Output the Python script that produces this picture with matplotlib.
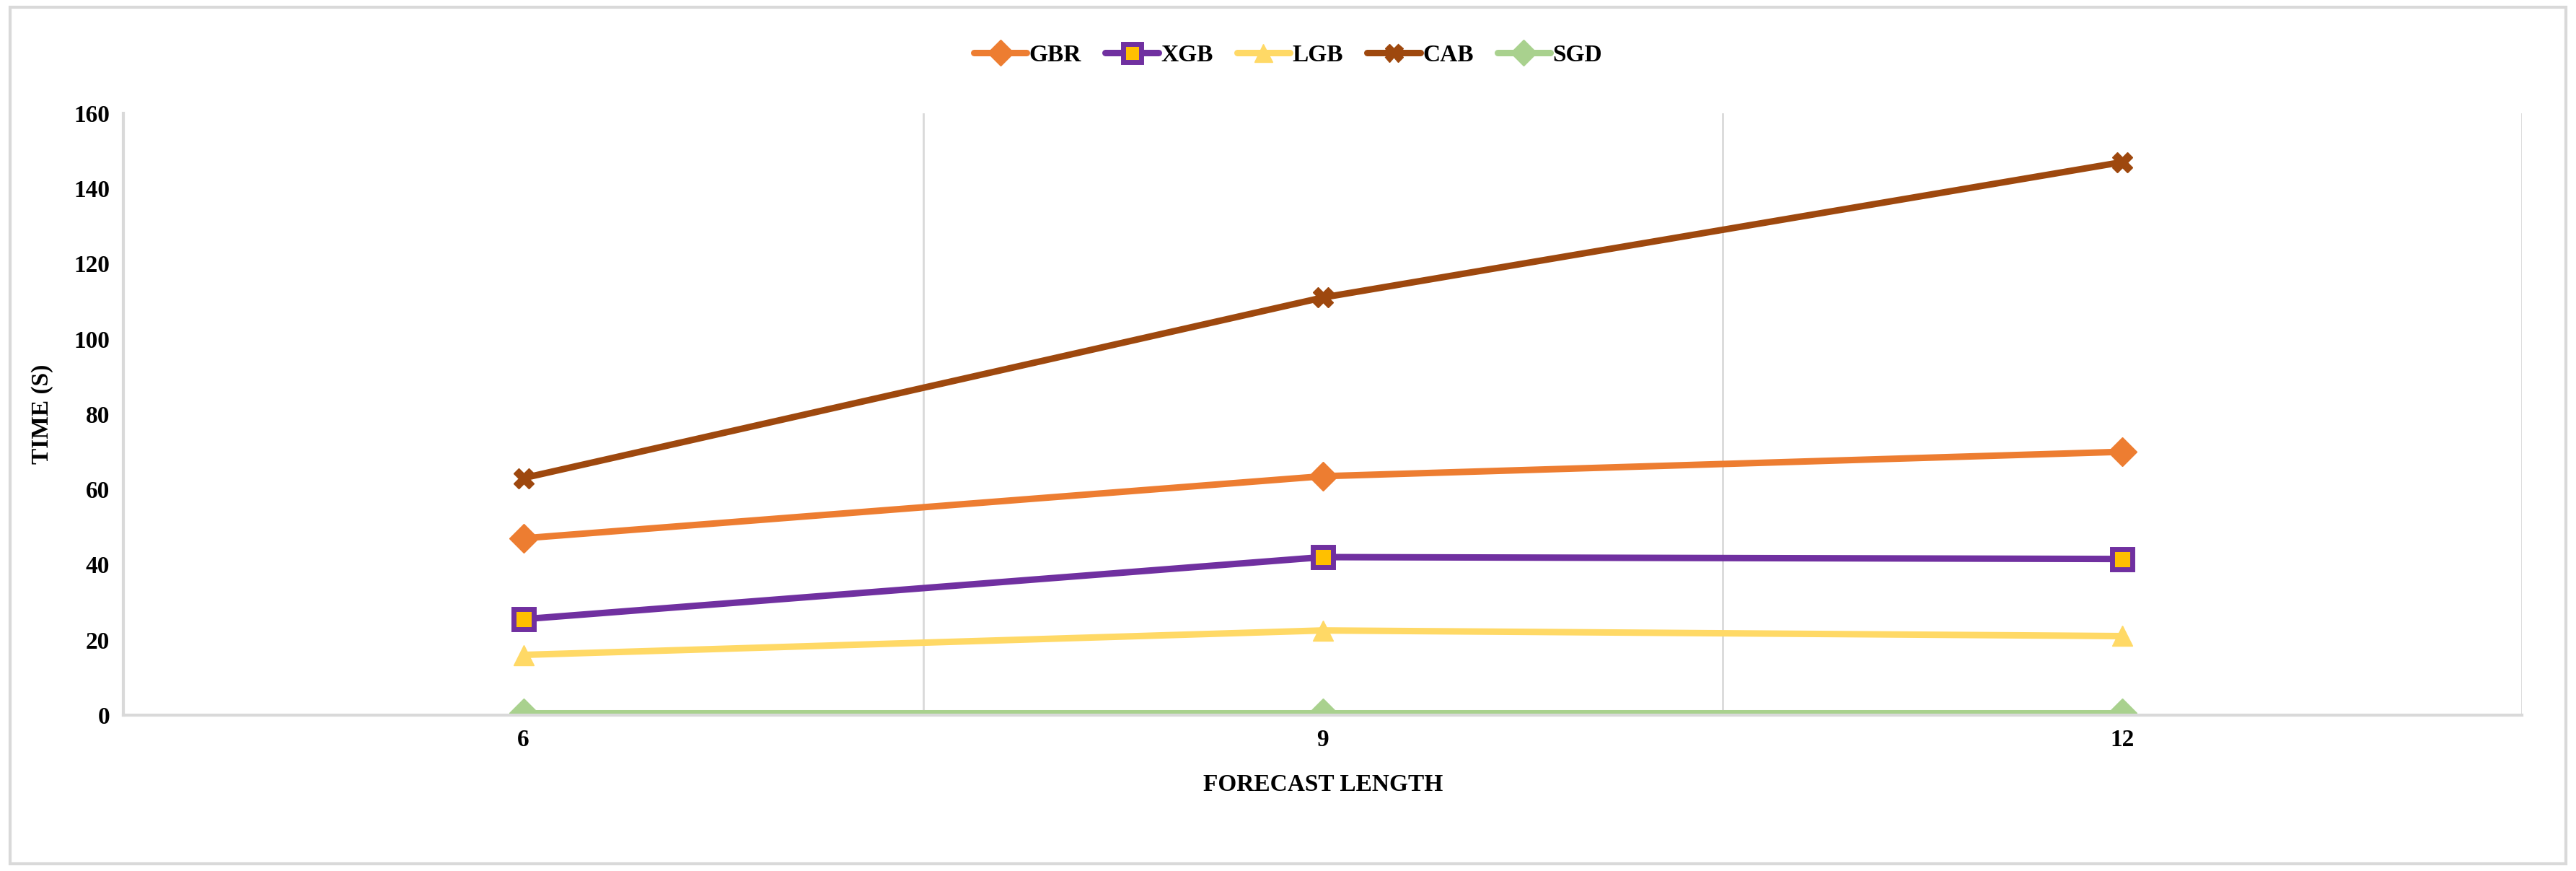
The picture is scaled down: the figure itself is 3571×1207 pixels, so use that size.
import matplotlib
matplotlib.use("Agg")
import matplotlib.pyplot as plt

categories = [6, 9, 12]
series_names = ["GBR", "XGB", "LGB", "CAB", "SGD"]
gbr = [47, 63.5, 70]
xgb = [25.5, 42, 41.5]
lgb = [16, 22.5, 21]
cab = [63, 111, 147]
sgd = [0.5, 0.5, 0.5]
yticks = [0, 20, 40, 60, 80, 100, 120, 140, 160]

plt.rcParams['font.family'] = ['Liberation Serif', 'DejaVu Serif']
plt.rcParams['font.weight'] = 'bold'

fig = plt.figure(figsize=(35.71, 12.07), dpi=100)
ax = fig.add_axes([0.048, 0.179, 0.931, 0.691])
fig.patches.append(plt.Rectangle((0.004, 0.008), 0.992, 0.984, transform=fig.transFigure,
                                 fill=False, edgecolor='#d9d9d9', linewidth=3))

styles = [
    (gbr, '#ED7D31', 'D', None),
    (xgb, '#7030A0', 's', '#FFC000'),
    (lgb, '#FFD966', '^', None),
    (cab, '#9E480E', 'X', None),
    (sgd, '#A9D18E', 'D', None),
]
x = list(range(len(categories)))
for name, (vals, col, m, inner) in zip(series_names, styles):
    ax.plot(x, vals, color=col, lw=6.5, marker=m, markersize=20,
            markerfacecolor=col if inner is None else inner,
            markeredgecolor=col, markeredgewidth=5 if inner else 1,
            label=name, solid_capstyle='round')

ax.set_xlim(-0.5, 2.5)
ax.set_ylim(0, 160)
ax.set_xticks(x)
ax.set_xticklabels([str(c) for c in categories])
ax.set_xticks([0.5, 1.5, 2.5], minor=True)
ax.grid(True, which='minor', axis='x', color='#d9d9d9', lw=2)
ax.set_yticks(yticks)
ax.tick_params(axis='both', which='both', length=0, labelsize=24, pad=14)
for s in ['top', 'right']:
    ax.spines[s].set_visible(False)
for s in ['left', 'bottom']:
    ax.spines[s].set_color('#d9d9d9')
    ax.spines[s].set_linewidth(3)
ax.set_xlabel('FORECAST LENGTH', fontsize=24, fontweight='bold', labelpad=22)
ax.set_ylabel('TIME (S)', fontsize=24, fontweight='bold', labelpad=20)

fig.legend(loc='center', bbox_to_anchor=(0.5, 0.937), ncol=5, frameon=False,
           fontsize=24, handlelength=2.2, handletextpad=0.1, columnspacing=1.0,
           markerscale=0.9)
fig.savefig('out.png', dpi=100)
